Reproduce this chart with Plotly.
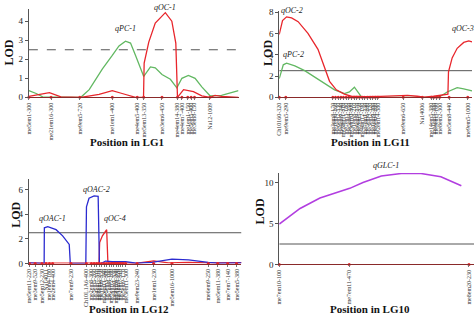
import plotly.graph_objects as go

# ---------------- LG1 ----------------
lg1_markers = [0, 10.6, 24.3, 39.8, 51.7, 54.8, 63.5, 70.9, 73.0, 75.8, 77.4, 79.0, 86.4]
lg1_names = ["me5em1-300", "me21em16-300", "me9em5-720", "me1em1-400", "me4em5-400",
             "me5em13-350", "me3em6-450", "me4em14-380", "me4em7-400", "me1em1-150",
             "me5em5-400", "me3em8-150", "Na12-1009"]
lg1_pc_pos = [0, 3.5, 6.6, 24.8, 28.8, 35.1, 39.8, 43.0, 46.1, 48.5, 50.9, 52.4, 54.8, 58.0,
              60.3, 63.5, 67.5, 70.6, 73.0, 76.1, 79.3, 82.5, 86.4, 91.9, 96.7, 100]
lg1_pc_lod = [0.35, 0.2, 0.02, 0, 0.4, 1.5, 2.2, 2.7, 2.95, 2.85, 2.2, 1.8, 1.1, 1.6,
              1.55, 1.2, 0.95, 0.5, 1.0, 1.15, 1.0, 0.55, 0.08, 0.1, 0.25, 0.35]
lg1_oc_pos = [0, 5.1, 9.8, 15.3, 24.8, 33.5, 39.8, 44.5, 50.9, 54.7, 55.0, 57.2, 60.3, 65.1,
              68.2, 70.1, 70.9, 73.8, 78.5, 82.5, 86.4, 88.8, 91.9, 100]
lg1_oc_lod = [0.05, 0.15, 0.25, 0.02, 0, 0.15, 0.35, 0.2, 0, 0, 1.8, 2.9, 3.9, 4.45,
              4.0, 2.85, 0, 0.4, 0.3, 0.08, 0, 0.1, 0.05, 0]

# ---------------- LG11 ----------------
lg11_markers = [0, 3.4, 27.8, 29.2, 30.6, 32.0, 33.3, 34.7, 36.1, 37.5, 38.8, 40.2, 41.6,
                43.0, 44.3, 45.7, 47.1, 48.5, 49.8, 51.2, 64.3, 74.2, 78.9, 80.2, 81.6,
                83.2, 88.1, 97.8]
lg11_names = ["Ch10160-320", "me9em5-290", "me3em8-170", "me1em6-260", "me6em2-330",
              "me4em9-240", "me2em11-310", "me7em3-180", "me5em4-250", "me3em10-300",
              "me1em8-210", "me6em9-270", "me2em5-350", "me4em12-190", "me7em1-230",
              "me5em6-280", "me3em2-320", "me1em9-200", "me6em4-260", "me2em14-380",
              "me9em6-650", "Na14006", "me14em5-380", "me1em3-300", "me9em5-160",
              "me8em2-300", "me5em8-440", "me9em5-1000"]
lg11_oc_pos = [0, 1.7, 3.8, 6.4, 9.8, 14.9, 20.1, 23.5, 26.1, 29.6, 33.8, 37.3, 44.2, 52.7,
               59.6, 66.5, 71.6, 75.1, 80.2, 83.7, 87.5, 87.8, 89.7, 92.3, 95.7, 98.3, 100]
lg11_oc_lod = [5.9, 7.2, 7.55, 7.45, 7.1, 6.0, 4.5, 2.9, 1.5, 0.7, 0.3, 0.1, 0.05, 0.08,
               0.15, 0.18, 0.1, 0.02, 0.1, 0.2, 0.3, 2.4, 3.7, 4.6, 5.15, 5.3, 5.2]
lg11_pc_pos = [0, 2.1, 3.8, 8.1, 13.2, 18.4, 23.5, 28.7, 33.8, 36.4, 39.0, 40.7, 42.8,
               78.5, 83.7, 87.1, 92.3, 95.7, 100]
lg11_pc_lod = [1.75, 3.05, 3.2, 2.95, 2.5, 1.9, 1.3, 0.7, 0.35, 0.5, 0.95, 0.5, 0,
               0, 0.1, 0.5, 0.9, 0.8, 0.6]

# ---------------- LG12 ----------------
lg12_markers = [0.3, 3.0, 6.2, 8.1, 9.7, 11.2, 19.8, 27.1, 29.4, 30.7, 31.9, 33.0, 34.1,
                35.4, 36.4, 37.7, 38.8, 39.9, 41.0, 42.1, 43.1, 44.2, 45.5, 50.9, 58.7,
                67.3, 84.4, 88.8, 93.5, 97.7]
lg12_names = ["me5em11-220", "me3em9-520", "me5em12-230", "Na14011", "me1em4-180",
              "me2em4-400", "me7em9-230", "Ch10L1A6-400", "me2em8-300", "me3em5-260",
              "me4em7-310", "me6em2-270", "me1em9-350", "me2em11-240", "me5em3-300",
              "me7em8-190", "me3em12-280", "me4em1-330", "me6em10-260", "me1em5-220",
              "me2em7-310", "me5em9-170", "me3em11-300", "me9em23-240", "me1em1-230",
              "me5em16-1000", "me6em9-250", "me5em11-380", "me7em7-140", "me5em5-380"]
lg12_oac_pos = [0, 6.9, 7.2, 7.3, 8.9, 12.8, 15.9, 19.0, 19.5, 26.8, 27.1, 28.3, 30.7,
                32.6, 33.2, 34.6, 36.1, 39.3, 45.5, 50.5, 57.9, 67.3, 75.1, 84.4, 89.1, 100]
lg12_oac_lod = [0.05, 0.05, 0, 2.9, 3.0, 2.75, 2.25, 1.55, 0, 0, 4.6, 5.3, 5.5,
                5.45, 0, 0.05, 0.2, 0.15, 0.15, 0.02, 0.1, 0.35, 0.3, 0.1, 0.02, 0.05]
lg12_oc_pos = [0, 33.0, 33.3, 34.6, 36.6, 37.2, 39.3, 50.2, 58.7, 65.7, 75.1, 84.4, 100]
lg12_oc_lod = [0.03, 0.03, 1.7, 2.25, 2.75, 0, 0.1, 0.0, 0.22, 0.05, 0.1, 0.05, 0.08]

# ---------------- LG10 ----------------
lg10_markers = [0, 35.9, 97.4]
lg10_names = ["me7em10-100", "me7em11-470", "me8em20-230"]
lg10_glc_pos = [0, 10.7, 20.9, 30.3, 36.2, 43.0, 52.4, 62.6, 72.8, 83.0, 93.5]
lg10_glc_lod = [4.94, 6.84, 8.1, 8.8, 9.29, 10.0, 10.8, 11.1, 11.1, 10.7, 9.6]

threshold = 2.5

W, H = 474, 321
GREEN = "#62b862"
RED = "#e8262c"
BLUE = "#2b2bd0"
PURPLE = "#b23ee0"
SERIF = "Liberation Serif"

fig = go.Figure()

panels = [
    # (axis suffix, x px range, y px (zero, top), y max, y ticks, markers, names, dashed)
    ("", (26, 237), (96, 5), 4.65, [0, 1, 2, 3, 4], lg1_markers, lg1_names, True),
    ("2", (278, 472), (96, 7), 8.12, [0, 2, 4, 6, 8], lg11_markers, lg11_names, False),
    ("3", (26, 240), (267, 180), 6.87, [0, 2, 4, 6], lg12_markers, lg12_names, False),
    ("4", (278, 474), (268, 174), 11.15, [0, 5, 10], lg10_markers, lg10_names, False),
]

curves = {
    "": [(lg1_pc_pos, lg1_pc_lod, GREEN), (lg1_oc_pos, lg1_oc_lod, RED)],
    "2": [(lg11_pc_pos, lg11_pc_lod, GREEN), (lg11_oc_pos, lg11_oc_lod, RED)],
    "3": [(lg12_oc_pos, lg12_oc_lod, RED), (lg12_oac_pos, lg12_oac_lod, BLUE)],
    "4": [(lg10_glc_pos, lg10_glc_lod, PURPLE)],
}

layout = dict(
    width=W, height=H, margin=dict(l=0, r=0, t=0, b=0),
    paper_bgcolor="white", plot_bgcolor="white", showlegend=False,
)
annotations = []

for suf, (x0, x1), (yz, yt), ymax, yticks, mpos, mnames, dashed in panels:
    xa, ya = "x" + suf, "y" + suf
    # significance threshold
    fig.add_trace(go.Scatter(x=[0, 100], y=[threshold, threshold], mode="lines",
                             line=dict(color="#555555", width=1,
                                       dash="dash" if dashed else "solid"),
                             xaxis=xa, yaxis=ya, hoverinfo="skip"))
    for px, py, col in curves[suf]:
        fig.add_trace(go.Scatter(x=px, y=py, mode="lines",
                                 line=dict(color=col, width=1.3 if suf != "4" else 1.6),
                                 xaxis=xa, yaxis=ya))
    # marker positions on the axis
    fig.add_trace(go.Scatter(x=mpos, y=[0] * len(mpos), mode="markers",
                             marker=dict(color=RED, size=3, symbol="circle"),
                             cliponaxis=False, xaxis=xa, yaxis=ya))
    xd = [x0 / W, x1 / W]
    yd = [1 - yz / H, 1 - yt / H]
    layout["xaxis" + suf] = dict(
        domain=xd, range=[0, 100], anchor=ya, showgrid=False, zeroline=False,
        showline=True, linecolor="#8a2a2a", linewidth=1,
        tickmode="array", tickvals=mpos, ticktext=mnames, tickangle=-90,
        ticks="outside", ticklen=2, tickcolor="#777777",
        tickfont=dict(family=SERIF, size=6, color="#333333"),
    )
    layout["yaxis" + suf] = dict(
        domain=yd, range=[0, ymax], anchor=xa, showgrid=False, zeroline=False,
        showline=True, linecolor="#555555", linewidth=1,
        tickmode="array", tickvals=yticks, ticks="outside", ticklen=3,
        tickcolor="#555555",
        tickfont=dict(family=SERIF, size=9, color="#222222"),
    )

# axis titles
for txt, x, y in [("Position in LG1", 125, 142), ("Position in LG11", 370, 142),
                  ("Position in LG12", 127, 314), ("Position in LG10", 369, 314)]:
    annotations.append(dict(text="<b>" + txt + "</b>", x=x / W, y=1 - y / H,
                            xref="paper", yref="paper", xanchor="center", yanchor="middle",
                            showarrow=False,
                            font=dict(family=SERIF, size=11, color="#111111")))
for x, y in [(6, 50), (266, 50), (13, 217), (259, 213)]:
    annotations.append(dict(text="<b>LOD</b>", x=x / W, y=1 - y / H, textangle=-90,
                            xref="paper", yref="paper", xanchor="center", yanchor="middle",
                            showarrow=False,
                            font=dict(family=SERIF, size=12, color="#111111")))

# QTL labels
for txt, x, y in [("qPC-1", 123, 25), ("qOC-1", 163, 4), ("qOC-2", 291, 7),
                  ("qPC-2", 292, 52), ("qOC-3", 463, 25), ("qOAC-1", 50, 221),
                  ("qOAC-2", 94, 191), ("qOC-4", 113, 221), ("qGLC-1", 385, 166)]:
    annotations.append(dict(text="<i>" + txt + "</i>", x=x / W, y=1 - y / H,
                            xref="paper", yref="paper", xanchor="center", yanchor="middle",
                            showarrow=False,
                            font=dict(family=SERIF, size=8, color="#222222")))

layout["annotations"] = annotations
fig.update_layout(**layout)
fig.write_html("out.html")
